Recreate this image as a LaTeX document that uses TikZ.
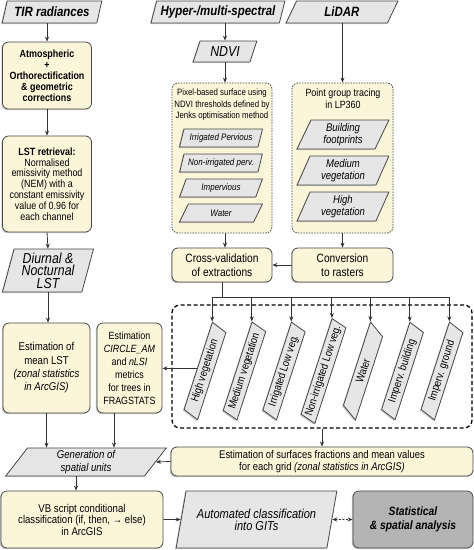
\documentclass[tikz,border=0pt]{standalone}
\usepackage{fontspec}
\setmainfont{Liberation Sans}[FakeStretch=0.85]
\usetikzlibrary{shapes.geometric,arrows.meta,shadows}
\definecolor{cream}{HTML}{FBF6DA}
\definecolor{lightgr}{HTML}{E6E6E6}
\definecolor{midgr}{HTML}{B4B4B4}
\definecolor{edgegr}{HTML}{474747}
\tikzset{
	shade box/.style={drop shadow={shadow xshift=-1.2pt,shadow yshift=-1.2pt,opacity=.4}},
	yellowbox/.style={draw=edgegr, fill=cream, rounded corners=6pt, align=center, inner sep=1pt, shade box},
	grayslant/.style={trapezium, trapezium left angle=70, trapezium right angle=110, trapezium stretches=true,
		draw=edgegr, fill=lightgr, align=center, inner sep=1pt, shade box},
	groupbox/.style={draw=edgegr, fill=cream, rounded corners=6pt, dash pattern=on 1.5pt off 1.2pt},
	header/.style={grayslant, font=\bfseries\itshape\fontsize{13.5}{15}\selectfont, minimum height=22pt},
	classbox/.style={grayslant, rotate=72, minimum width=98pt, minimum height=16pt, font=\fontsize{11}{12}\selectfont},
	connect/.style={draw=black!80, -{Stealth[length=5pt,width=4pt]}}
}
\begin{document}
\begin{tikzpicture}[x=1pt,y=-1pt,line width=0.8pt]
	\useasboundingbox (0,0) rectangle (474,550);
	% sources
	\node[header, minimum width=100pt] (tir) at (52,12){TIR radiances};
	\node[header, minimum width=134pt] (hyper) at (218,12){Hyper-/multi-spectral};
	\node[header, minimum width=112pt] (lidar) at (342,12){LiDAR};
	% thermal column
	\node[yellowbox, minimum width=89pt, minimum height=67pt, font=\bfseries\fontsize{10.5}{11}\selectfont] (atm) at (47,75.5){Atmospheric\\+\\Orthorectification\\\& geometric\\corrections};
	\node[yellowbox, minimum width=89pt, minimum height=96pt, font=\fontsize{10.5}{10.8}\selectfont] (lst) at (47,184){\textbf{LST retrieval:}\\Normalised\\emissivity method\\(NEM) with a\\constant emissivity\\value of 0.96 for\\each channel};
	\node[grayslant, trapezium left angle=76, trapezium right angle=104, minimum width=91pt, minimum height=43pt, font=\itshape\fontsize{14.5}{12.5}\selectfont] (diurnal) at (48,270.5){Diurnal \&\\Nocturnal\\LST};
	\node[yellowbox, minimum width=87pt, minimum height=90pt, font=\fontsize{11.3}{13.3}\selectfont] (meanlst) at (46.5,368){Estimation of\\mean LST\\\textit{(zonal statistics}\\\textit{in ArcGIS)}};
	\node[yellowbox, minimum width=65pt, minimum height=90pt, font=\fontsize{10.5}{13}\selectfont] (frag) at (129.5,368){Estimation\\\textit{CIRCLE\_AM}\\and \textit{nLSI}\\metrics\\for trees in\\FRAGSTATS};
	% spectral column
	\node[grayslant, minimum width=64pt, minimum height=21pt, font=\itshape\fontsize{14.5}{16}\selectfont] (ndvi) at (225,51.5){NDVI};
	\node[groupbox, minimum width=100pt, minimum height=150pt] (pixgrp) at (222,158){};
	\node[align=center, font=\fontsize{9.2}{11.5}\selectfont] (pixtext) at (222,105){Pixel-based surface using\\NDVI thresholds defined by\\Jenks optimisation method};
	\node[grayslant, minimum width=83pt, minimum height=18pt, font=\itshape\fontsize{9.4}{10}\selectfont] (irrperv) at (221,138){Irrigated Pervious};
	\node[grayslant, minimum width=83pt, minimum height=18pt, font=\itshape\fontsize{9.4}{10}\selectfont] (nonirr) at (221,163){Non-irrigated perv.};
	\node[grayslant, minimum width=83pt, minimum height=18pt, font=\itshape\fontsize{9.4}{10}\selectfont] (imperv) at (221,188){Impervious};
	\node[grayslant, minimum width=83pt, minimum height=18pt, font=\itshape\fontsize{9.4}{10}\selectfont] (pixwater) at (221,213){Water};
	% lidar column
	\node[groupbox, minimum width=101pt, minimum height=150pt] (lidgrp) at (342.5,158){};
	\node[align=center, font=\fontsize{10.5}{11.7}\selectfont] (lidtext) at (343,99){Point group tracing\\in LP360};
	\node[grayslant, minimum width=92pt, minimum height=29pt, font=\itshape\fontsize{11.2}{12.3}\selectfont] (bldfoot) at (343,134.5){Building\\footprints};
	\node[grayslant, minimum width=92pt, minimum height=29pt, font=\itshape\fontsize{11.2}{12.3}\selectfont] (medveg) at (343,170.5){Medium\\vegetation};
	\node[grayslant, minimum width=92pt, minimum height=29pt, font=\itshape\fontsize{11.2}{12.3}\selectfont] (highveg) at (343,206.5){High\\vegetation};
	\node[yellowbox, minimum width=100pt, minimum height=34pt, font=\fontsize{12}{14.3}\selectfont] (crossval) at (222,265){Cross-validation\\of extractions};
	\node[yellowbox, minimum width=101pt, minimum height=34pt, font=\fontsize{12}{14.3}\selectfont] (conv) at (342.5,265){Conversion\\to rasters};
	% surface classes
	\node[draw, rounded corners=8pt, line width=1.3pt, dash pattern=on 4pt off 2.5pt, minimum width=300pt, minimum height=123pt] (classgrp) at (322,366.5){};
	\node[classbox] (hveg) at (205,371){High vegetation};
	\node[classbox] (mveg) at (244.5,371){Medium vegetation};
	\node[classbox] (irr) at (284,371){Irrigated Low veg.};
	\node[classbox] (nirr) at (323.5,371){Non-irrigated Low veg.};
	\node[classbox] (water) at (363,371){Water};
	\node[classbox] (ibld) at (402.5,371){Imperv. building};
	\node[classbox] (ignd) at (442,371){Imperv. ground};
	\coordinate (bus) at (222,297);
	% bottom rows
	\node[yellowbox, minimum width=302pt, minimum height=29pt, font=\fontsize{11.1}{12.3}\selectfont] (fractions) at (322,461.5){Estimation of surfaces fractions and mean values\\for each grid \textit{(zonal statistics in ArcGIS)}};
	\node[grayslant, trapezium left angle=66, trapezium right angle=114, minimum width=162pt, minimum height=28pt, font=\itshape\fontsize{11.3}{12.7}\selectfont] (spatial) at (86,462){Generation of\\spatial units};
	\node[yellowbox, minimum width=162pt, minimum height=57pt, font=\fontsize{11.3}{11.5}\selectfont] (vb) at (82,519.5){VB script conditional\\classification (if, then, → else)\\in ArcGIS};
	\node[grayslant, minimum width=161pt, minimum height=57pt, font=\itshape\fontsize{13}{12}\selectfont] (auto) at (256.5,519.5){Automated classification\\into GITs};
	\node[yellowbox, fill=midgr, minimum width=120pt, minimum height=57pt, font=\bfseries\itshape\fontsize{12.1}{13.3}\selectfont] (stat) at (413,519.5){Statistical\\\& spatial analysis};
	% connectors
	\draw[connect] (atm.north |- tir.south) -- (atm.north);
	\draw[connect] (atm.south) -- (lst.north);
	\draw[connect] (lst.south) -- (diurnal.north);
	\draw[connect] (diurnal.south) -- (diurnal.south |- meanlst.north);
	\draw[connect] (ndvi.north |- hyper.south) -- (ndvi.north);
	\draw[connect] (ndvi.south) -- (ndvi.south |- pixgrp.north);
	\draw[connect] (lidgrp.north |- lidar.south) -- (lidgrp.north);
	\draw[connect] (pixgrp.south -| ndvi.south) -- (crossval.north -| ndvi.south);
	\draw[connect] (lidgrp.south) -- (conv.north);
	\draw[connect] (conv.west) -- (crossval.east);
	\draw[draw=black!80] (crossval.south) -- (bus);
	\draw[draw=black!80] (hveg.top right corner |- bus) -- (ignd.top right corner |- bus);
	\draw[connect] (hveg.top right corner |- bus) -- (hveg.top right corner);
	\draw[connect] (mveg.top right corner |- bus) -- (mveg.top right corner);
	\draw[connect] (irr.top right corner |- bus) -- (irr.top right corner);
	\draw[connect] (nirr.top right corner |- bus) -- (nirr.top right corner);
	\draw[connect] (water.top right corner |- bus) -- (water.top right corner);
	\draw[connect] (ibld.top right corner |- bus) -- (ibld.top right corner);
	\draw[connect] (ignd.top right corner |- bus) -- (ignd.top right corner);
	\draw[connect] (hveg.north) -- (hveg.north -| frag.east);
	\draw[connect] (classgrp.south) -- (fractions.north);
	\draw[connect] (fractions.west) -- (spatial.east);
	\draw[connect] (meanlst.south) -- (meanlst.south |- spatial.north);
	\draw[connect] ([xshift=-15.5pt]frag.south) -- ([xshift=-15.5pt]frag.south |- spatial.north);
	\draw[connect] ([xshift=-10pt]spatial.south) -- ([xshift=-10pt]spatial.south |- vb.north);
	\draw[connect] (vb.east) -- (auto.west);
	\draw[connect, {Stealth[length=5pt,width=4pt]}-{Stealth[length=5pt,width=4pt]}, dash pattern=on 2pt off 1.5pt] (auto.east) -- (stat.west);
\end{tikzpicture}
\end{document}
